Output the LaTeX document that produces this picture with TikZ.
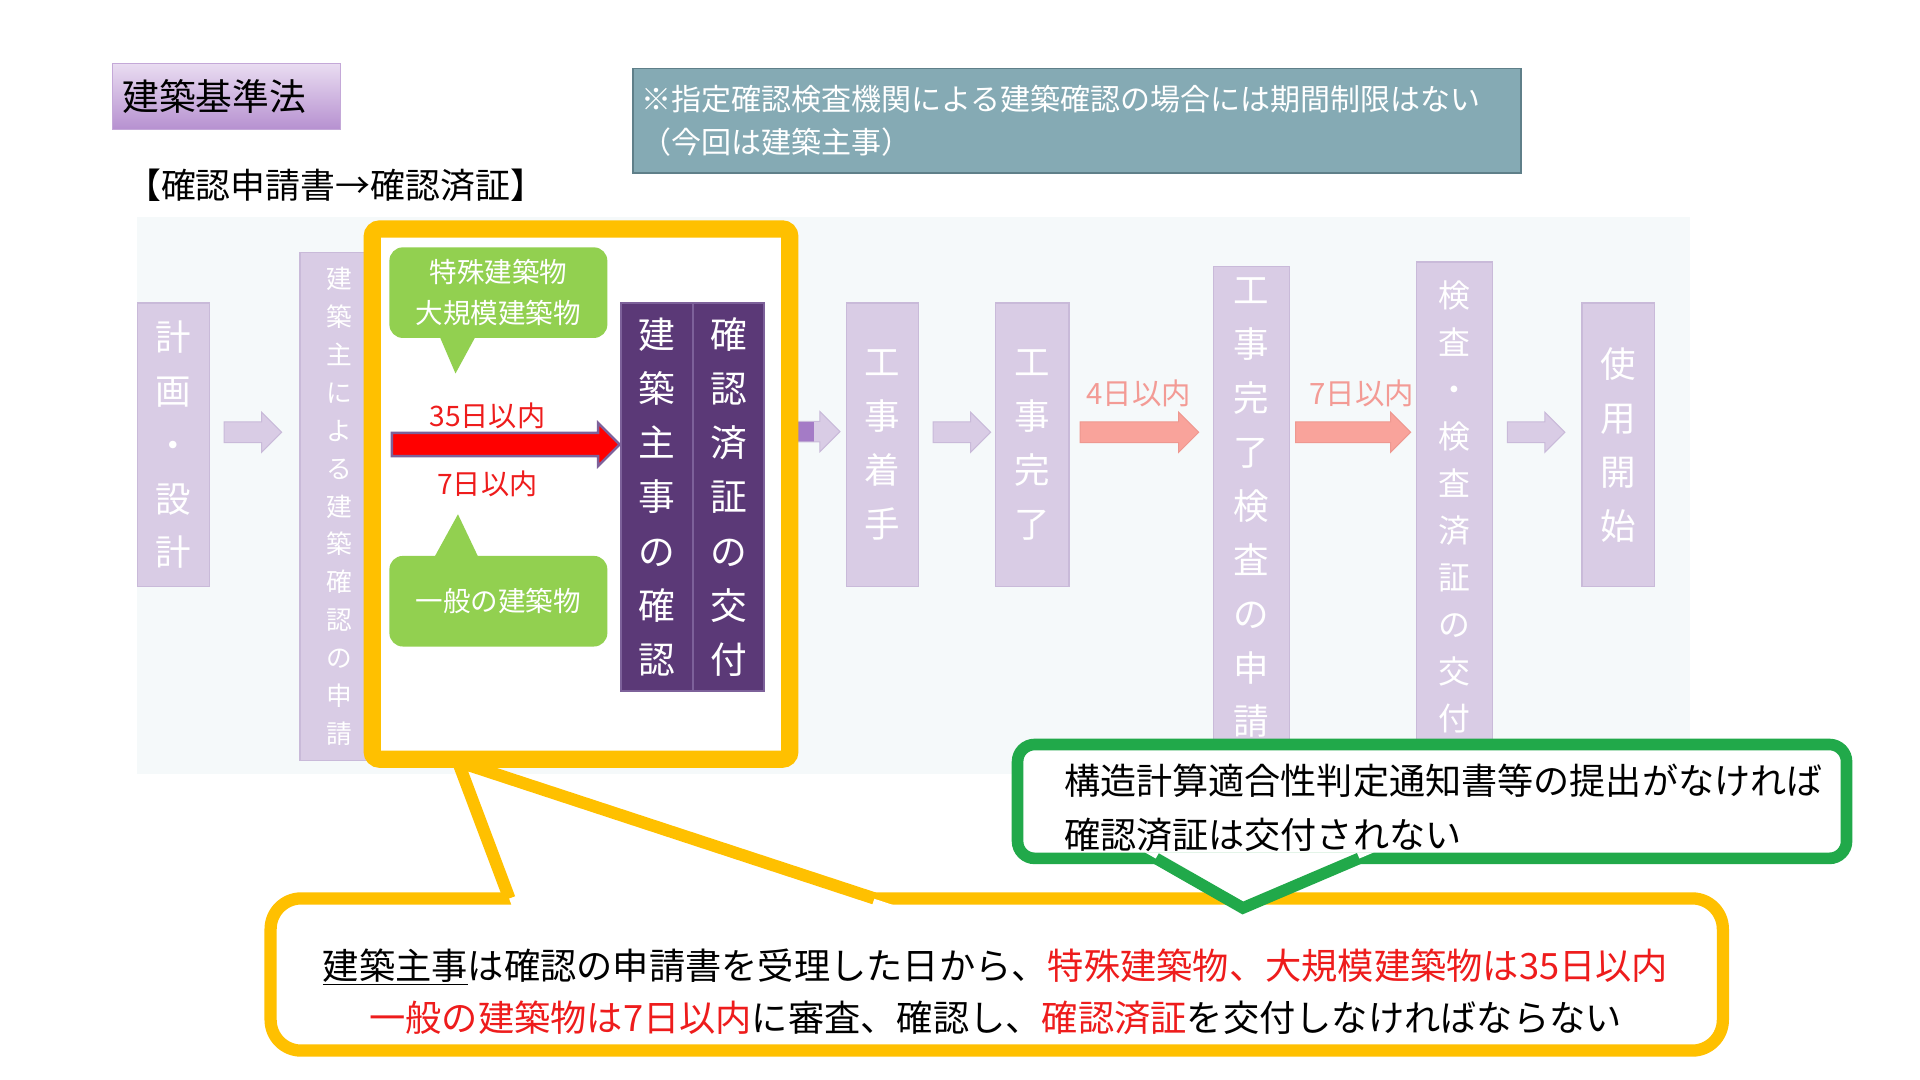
\documentclass[tikz,border=0pt]{standalone}
\usepackage{fontspec}
\setmainfont{Noto Sans CJK JP}
\usetikzlibrary{shapes.arrows}
\definecolor{lav}{HTML}{D9CCE5}
\definecolor{lavline}{HTML}{C9BAD9}
\definecolor{panelc}{HTML}{F5F9FA}
\definecolor{titletop}{HTML}{E9DCF1}
\definecolor{titlebot}{HTML}{B690D0}
\definecolor{titleline}{HTML}{C4A8D8}
\definecolor{tealc}{HTML}{85AAB4}
\definecolor{tealline}{HTML}{5F7F89}
\definecolor{yel}{HTML}{FFC000}
\definecolor{gfill}{HTML}{92D050}
\definecolor{gline}{HTML}{21A94A}
\definecolor{dpurple}{HTML}{5B3977}
\definecolor{dpline}{HTML}{7D619A}
\definecolor{redc}{HTML}{FF0000}
\definecolor{redtext}{HTML}{EE1C1C}
\definecolor{salmon}{HTML}{F9A39B}
\definecolor{salmonline}{HTML}{EE9890}
\definecolor{salmontext}{HTML}{F39B95}
\definecolor{apurple}{HTML}{A47BC6}
\begin{document}
\begin{tikzpicture}[x=1pt,y=-1pt,
  every node/.style={outer sep=0pt},
  flowbox/.style={draw=lavline, fill=lav, line width=1pt, inner sep=0pt, text=white, align=center, anchor=north west},
  darkbox/.style={draw=dpline, fill=dpurple, line width=1.5pt, inner sep=0pt, text=white, align=center, anchor=north west, font=\fontsize{30}{44.3}\selectfont},
  blockarrow/.style={single arrow, single arrow head extend=8pt, minimum width=32pt, inner xsep=0pt, inner ysep=8pt, anchor=tail, line width=0.8pt},
  lavarrow/.style={blockarrow, fill=lav, draw=lavline},
  salarrow/.style={blockarrow, fill=salmon, draw=salmonline},
  gbubble/.style={fill=gfill, rounded corners=11pt, inner sep=0pt, minimum width=178pt, minimum height=74pt, text=white, align=center, font=\fontsize{22.5}{34}\selectfont},
  daylabel/.style={inner sep=0pt, font=\fontsize{23}{28}\selectfont}
]
\useasboundingbox (0,0) rectangle (1568,882);
\fill[white] (0,0) rectangle (1568,882);
% background panel
\fill[panelc] (112,177) rectangle (1380,632);

% flow boxes (left)
\node[flowbox, minimum width=59pt, minimum height=231.5pt, font=\fontsize{29}{44}\selectfont] (plan) at (112,247.5) {計\\画\\・\\設\\計};
\node[lavarrow, minimum height=47pt] (a1) at (183,353) {};
\node[flowbox, minimum width=64pt, minimum height=415pt, font=\fontsize{21}{31}\selectfont] (apply) at (245,206) {建\\築\\主\\に\\よ\\る\\建\\築\\確\\認\\の\\申\\請};

% purple arrow leaving the frame
\node[blockarrow, fill=lav, draw=lavline, minimum height=56pt,
  path picture={\fill[apurple] (path picture bounding box.south west) rectangle ([xshift=35pt]path picture bounding box.north west);}] (a2) at (630,352.5) {};

% yellow frame
\node[draw=yel, line width=14pt, fill=white, rounded corners=6pt, minimum width=341pt, minimum height=433pt, anchor=north west, inner sep=0pt] (frame) at (304,187) {};

% green bubbles
\node[gbubble] (bubble1) at (407,239) {特殊建築物\\大規模建築物};
\fill[gfill] (357,270) -- (391,270) -- (372,305) -- cycle;
\node[gbubble] (bubble2) at (407,491) {一般の建築物};
\fill[gfill] (352,460) -- (393,460) -- (374,420) -- cycle;

% red arrow and labels
\node[single arrow, single arrow head extend=8pt, minimum width=33pt, minimum height=186pt, inner xsep=0pt, inner ysep=8.5pt, anchor=tail, fill=redc, draw=dpline, line width=2pt] (redarrow) at (320,363) {};
\node[daylabel, text=redtext] (d35) at (398,340) {35日以内};
\node[daylabel, text=redtext] (d7) at (398,395) {7日以内};

% dark purple box
\node[darkbox, minimum width=59pt, minimum height=316.5pt] (kakunin) at (507,247.5) {建\\築\\主\\事\\の\\確\\認};
\node[darkbox, minimum width=58pt, minimum height=316.5pt] (kofu) at (566,247.5) {確\\認\\済\\証\\の\\交\\付};

% flow boxes (right)
\node[flowbox, minimum width=59pt, minimum height=231.5pt, font=\fontsize{29}{44}\selectfont] (start) at (691,247.5) {工\\事\\着\\手};
\node[lavarrow, minimum height=47pt] (a3) at (762,353) {};
\node[flowbox, minimum width=60pt, minimum height=231.5pt, font=\fontsize{29}{44}\selectfont] (done) at (813,247.5) {工\\事\\完\\了};
\node[daylabel, text=salmontext, font=\fontsize{24}{28}\selectfont] (d4) at (930,321) {4日以内};
\node[salarrow, minimum height=97pt] (a4) at (882,353) {};
\node[flowbox, minimum width=62pt, minimum height=394.5pt, font=\fontsize{29}{44}\selectfont] (inspapp) at (991,217.5) {工\\事\\完\\了\\検\\査\\の\\申\\請};
\node[daylabel, text=salmontext, font=\fontsize{24}{28}\selectfont] (d7b) at (1112,321) {7日以内};
\node[salarrow, minimum height=94pt] (a5) at (1058,353) {};
\node[flowbox, minimum width=62pt, minimum height=400pt, font=\fontsize{26}{38.4}\selectfont] (insp) at (1157,214) {検\\査\\・\\検\\査\\済\\証\\の\\交\\付};
\node[lavarrow, minimum height=47pt] (a6) at (1231,353) {};
\node[flowbox, minimum width=59pt, minimum height=231.5pt, font=\fontsize{29}{44}\selectfont] (use) at (1292,247.5) {使\\用\\開\\始};

% title, heading, note
\node[draw=titleline, top color=titletop, bottom color=titlebot, line width=1pt, minimum width=186pt, minimum height=54pt, anchor=north west, inner xsep=8pt, text width=170pt, align=left, font=\fontsize{30}{36}\selectfont] (title) at (92,52) {建築基準法};
\node[anchor=west, inner sep=0pt, font=\fontsize{28.5}{34}\selectfont] (heading) at (103,151) {【確認申請書→確認済証】};
\node[draw=tealline, fill=tealc, line width=1.5pt, anchor=north west, minimum width=725pt, minimum height=85pt, inner xsep=7pt, text width=711pt, align=left, text=white, font=\fontsize{24.5}{35}\selectfont] (note) at (517,56) {※指定確認検査機関による建築確認の場合には期間制限はない\\（今回は建築主事）};

% yellow callout
\node[draw=yel, line width=10pt, fill=white, rounded corners=25pt, minimum width=1186pt, minimum height=124.3pt, anchor=north west, inner sep=0pt] (rule) at (221,733.7) {};
\fill[white] (377,630) -- (398.3,630) -- (730.7,739.5) -- (417.9,739.5) -- cycle;
\draw[yel, line width=10pt, line join=round] (416,733.7) -- (374,622) -- (714,733.7);
\node[inner sep=0pt, align=center, font=\fontsize{29.6}{42}\selectfont] (ruletext) at (813,810) {\underline{建築主事}は確認の申請書を受理した日から、\textcolor{redtext}{特殊建築物、大規模建築物は35日以内}\\\textcolor{redtext}{一般の建築物は7日以内}に審査、確認し、\textcolor{redtext}{確認済証}を交付しなければならない};

% green callout
\node[draw=gline, line width=9.5pt, fill=white, rounded corners=14pt, minimum width=677pt, minimum height=93pt, anchor=north west, inner sep=0pt] (warn) at (831,608) {};
\fill[white] (935.2,696.2) -- (1121.7,696.2) -- (1015,741.5) -- cycle;
\draw[gline, line width=9.5pt, line join=miter] (944,701) -- (1015,741.5) -- (1110,701);
\node[anchor=west, inner sep=0pt, align=left, font=\fontsize{29.5}{44.4}\selectfont] (warntext) at (869,659.8) {構造計算適合性判定通知書等の提出がなければ\\確認済証は交付されない};
\end{tikzpicture}
\end{document}
